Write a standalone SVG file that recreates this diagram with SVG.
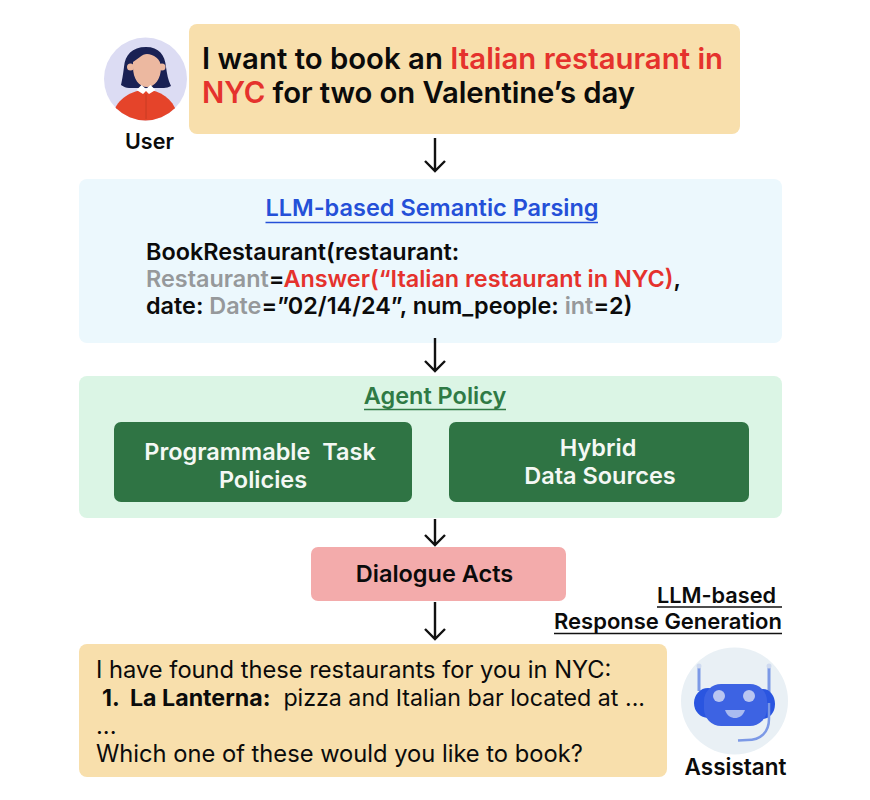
<svg xmlns="http://www.w3.org/2000/svg" width="870" height="800" viewBox="0 0 870 800">
<style>
text{font-family:Inter,"Liberation Sans",sans-serif;fill:#0b0b0b;font-weight:600;white-space:pre}
.m{text-anchor:middle}
.red{fill:#e5322d}
.gray{fill:#96999b}
.w{fill:#f4f8f4;text-anchor:middle;font-size:23.5px}
.code{font-size:23.4px}
.req{font-size:29.3px}
.r{font-size:23.7px;font-weight:400}
.ar{fill:none;stroke:#111;stroke-width:2.4}
</style>
<defs>
<clipPath id="uc"><circle cx="145.500" cy="79" r="41.500"/></clipPath>
</defs>
<rect width="870" height="800" fill="#fff"/>
<g id="user">
<circle cx="145.500" cy="79" r="41.500" fill="#dcdcf3"/>
<g clip-path="url(#uc)">
<path d="M146 47c-14 0-21 8-22 20-1 8-2 13-3 18 3 2 5 3 8 3h35c2 0 5-1 7-2-3-6-4-12-5-19-1-12-7-20-20-20z" fill="#1a2154"/>
<circle cx="130.500" cy="67" r="3.500" fill="#ecb8a0"/><circle cx="162" cy="67" r="3.500" fill="#ecb8a0"/>
<path d="M133 62c5-3 9-8 14-8 6 0 14 5 14 13 0 12-6 20-14 20-8 0-14-8-14-20z" fill="#ecb8a0"/>
<path d="M112 118c2-15 14-25 29-28h10c14 3 25 13 27 28l-10 6h-46z" fill="#e5442a"/>
<path d="M136.500 90l5-5 4.500 4 4.500-4 5 5-6.500 4-3-3-3 3z" fill="#fff"/>
<path d="M146 94v25" stroke="#c23a22" stroke-width="0.800"/>
</g>
<text class="m" x="149.500" y="149" font-size="21.500">User</text>
</g>
<g id="request">
<rect x="189" y="24" width="551" height="110" rx="8" fill="#f8dfac"/>
<text class="req" x="202" y="69" textLength="521" lengthAdjust="spacing">I want to book an <tspan class="red">Italian restaurant in</tspan></text>
<text class="req" x="202" y="103" textLength="433" lengthAdjust="spacing"><tspan class="red">NYC</tspan> for two on Valentine’s day</text>
</g>
<g id="parsing">
<rect x="79" y="179" width="703" height="164" rx="8" fill="#ecf8fd"/>
<text class="m" x="432" y="216" font-size="23.500" style="fill:#2450d8">LLM-based Semantic Parsing</text>
<line x1="265.500" y1="222.500" x2="598" y2="222.500" stroke="#2450d8" stroke-width="1.500"/>
<text class="code" x="146" y="260">BookRestaurant(restaurant:</text>
<text class="code" x="146" y="287"><tspan class="gray">Restaurant</tspan>=<tspan class="red">Answer(“Italian restaurant in NYC)</tspan>,</text>
<text class="code" x="146" y="314">date: <tspan class="gray">Date</tspan>=”02/14/24”, num_people: <tspan class="gray">int</tspan>=2)</text>
</g>
<g id="policy">
<rect x="79" y="376" width="703" height="142" rx="8" fill="#dbf5e5"/>
<text class="m" x="435" y="404" font-size="23.500" style="fill:#2f7a45">Agent Policy</text>
<line x1="364" y1="409.500" x2="506" y2="409.500" stroke="#2f7a45" stroke-width="1.500"/>
</g>
<g id="task-policies">
<rect x="114" y="422" width="298" height="80" rx="7" fill="#2f7444"/>
<text class="w" x="260" y="460">Programmable  Task</text>
<text class="w" x="263" y="488">Policies</text>
</g>
<g id="data-sources">
<rect x="449" y="422" width="300" height="80" rx="7" fill="#2f7444"/>
<text class="w" x="598" y="456">Hybrid</text>
<text class="w" x="600" y="484">Data Sources</text>
</g>
<g id="dialogue-acts">
<rect x="311" y="547" width="255" height="54" rx="7" fill="#f3abab"/>
<text class="m" x="434.500" y="582" font-size="23.500">Dialogue Acts</text>
</g>
<g id="response-label">
<text x="657" y="603" font-size="21.700">LLM-based</text>
<line x1="657" y1="607" x2="782" y2="607" stroke="#111" stroke-width="1.500"/>
<text x="554" y="629" font-size="22">Response Generation</text>
<line x1="554" y1="633.500" x2="782" y2="633.500" stroke="#111" stroke-width="1.500"/>
</g>
<g id="response">
<rect x="79" y="644" width="588" height="133" rx="8" fill="#f8dfac"/>
<text class="r" x="96" y="678">I have found these restaurants for you in NYC:</text>
<text class="r" x="102" y="706" textLength="543" lengthAdjust="spacing" style="font-size:23.2px"><tspan style="font-weight:700">1.  La Lanterna:</tspan>  pizza and Italian bar located at ...</text>
<text class="r" x="96" y="734">...</text>
<text class="r" x="96" y="762">Which one of these would you like to book?</text>
</g>
<g id="assistant">
<circle cx="734.500" cy="701" r="53.500" fill="#e9f0f5"/>
<path d="M699 667v24M769 667v36" stroke="#7c99e6" stroke-width="3" fill="none"/>
<circle cx="699" cy="666" r="2.500" fill="#cfdaf0"/><circle cx="769" cy="666" r="2.500" fill="#cfdaf0"/>
<ellipse cx="708" cy="703" rx="14" ry="15" fill="#2a55e0"/>
<ellipse cx="763" cy="704" rx="12" ry="15" fill="#2a55e0"/>
<rect x="704" y="684" width="63" height="42" rx="17" fill="#3d63e3"/>
<circle cx="719" cy="696" r="6" fill="#b9c6f1"/><circle cx="749" cy="696" r="6" fill="#b9c6f1"/>
<path d="M725 710h20c-2 6-6 8-10 8s-8-2-10-8z" fill="#a9bbf0"/>
<path d="M769 703v16c0 13-8 21-22 21l-9 0.500" stroke="#7c99e6" stroke-width="2.500" fill="none"/>
<text class="m" x="735.500" y="775" font-size="22.500">Assistant</text>
</g>
<g id="connectors" class="ar">
<path d="M435 138v33M425 161l10 10 10-10"/>
<path d="M435 338v33M425 361l10 10 10-10"/>
<path d="M435 519v26M425 535l10 10 10-10"/>
<path d="M435 602v37M425 629l10 10 10-10"/>
</g>
</svg>
